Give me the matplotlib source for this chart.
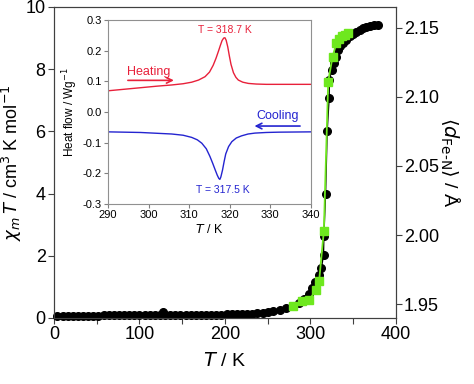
import matplotlib
matplotlib.use('Agg')
import matplotlib.pyplot as plt

plt.rcParams['font.family'] = ['Liberation Sans', 'DejaVu Sans']
plt.rcParams['mathtext.fontset'] = 'dejavusans'

# chi_m T vs T (black circles)
temp_chi = [4, 10, 16, 22, 28, 34, 40, 46, 52, 58, 64, 70, 76, 82, 88, 94, 100,
            106, 112, 118, 124, 127, 130, 136, 142, 148, 154, 160, 166, 172, 178,
            184, 190, 196, 202, 208, 214, 220, 226, 232, 238, 244, 250, 256, 264,
            272, 280, 287, 293, 298, 302, 306, 310, 313, 315.4, 315.8, 317.8,
            319.7, 322, 322.3, 324.8, 327.5, 329.8, 332.6, 335, 338.4, 342, 346.2,
            350, 354, 358, 361.8, 365, 369.6, 374, 379.3]
chi_t = [0.05, 0.05, 0.05, 0.06, 0.06, 0.06, 0.06, 0.07, 0.07, 0.08, 0.08, 0.08,
         0.08, 0.08, 0.08, 0.08, 0.08, 0.08, 0.09, 0.09, 0.09, 0.2, 0.09, 0.09,
         0.09, 0.1, 0.1, 0.1, 0.1, 0.1, 0.1, 0.11, 0.11, 0.11, 0.12, 0.12, 0.12,
         0.13, 0.13, 0.14, 0.15, 0.17, 0.19, 0.22, 0.26, 0.32, 0.38, 0.48, 0.62,
         0.78, 0.95, 1.15, 1.38, 1.62, 2.03, 2.64, 3.99, 6.01, 7.08, 7.65, 7.97,
         8.19, 8.4, 8.62, 8.73, 8.83, 8.95, 9.05, 9.13, 9.2, 9.26, 9.31, 9.35,
         9.39, 9.41, 9.42]

# <d Fe-N> vs T (green squares)
temp_d = [279.2, 289.7, 298.6, 306.4, 310.3, 315.8, 320.9, 326.0, 330.6, 334.0,
          336.5, 340.4, 344.0]
d_fen = [1.949, 1.952, 1.953, 1.960, 1.967, 2.003, 2.111, 2.129, 2.139, 2.142,
         2.144, 2.145, 2.146]

# DSC inset
temp_heat = [290.0, 294.0, 298.0, 302.0, 305.7, 308.5, 310.6, 312.3, 313.9, 315.0,
             315.9, 316.6, 317.2, 317.7, 318.1, 318.5, 318.8, 319.1, 319.5, 319.9,
             320.3, 320.9, 321.5, 322.1, 323.2, 324.6, 326.5, 329.0, 340.0]
flow_heat = [0.069, 0.074, 0.079, 0.084, 0.088, 0.092, 0.097, 0.104, 0.115, 0.130,
             0.152, 0.175, 0.198, 0.218, 0.233, 0.241, 0.242, 0.234, 0.212, 0.182,
             0.155, 0.128, 0.113, 0.104, 0.097, 0.093, 0.091, 0.090, 0.090]
temp_cool = [290.0, 298.0, 305.7, 308.5, 310.6, 312.0, 313.1, 314.2, 315.1, 315.8,
             316.4, 316.9, 317.3, 317.55, 317.8, 318.2, 318.6, 319.0, 319.7, 320.5,
             321.6, 322.9, 324.5, 326.2, 329.0, 332.0, 340.0]
flow_cool = [-0.065, -0.067, -0.072, -0.076, -0.083, -0.091, -0.102, -0.120, -0.145,
             -0.168, -0.189, -0.206, -0.217, -0.220, -0.212, -0.190, -0.162, -0.137,
             -0.113, -0.097, -0.085, -0.078, -0.072, -0.069, -0.067, -0.066, -0.065]

red = '#e8203a'
blue = '#2424d0'
green = '#6ee81e'
spine_col = '#404040'

fig = plt.figure(figsize=(4.74, 3.84), dpi=100)
ax = fig.add_axes([0.114, 0.172, 0.721, 0.810])

ax.plot(temp_chi, chi_t, 'o-', color='black', markersize=5.5, lw=1, clip_on=False, zorder=3)
ax.set_xlim(0, 400)
ax.set_ylim(0, 10)
ax.set_xticks(range(0, 401, 50))
ax.set_xticklabels(['0', '', '100', '', '200', '', '300', '', '400'])
ax.set_yticks(range(0, 11, 2))
ax.tick_params(labelsize=13, direction='out', length=4, color=spine_col, pad=2)
for s in ax.spines.values():
    s.set_color(spine_col)
ax.set_xlabel('$T$ / K', fontsize=14, labelpad=6)
ax.set_ylabel(r'$\chi_m\,T$ / cm$^3$ K mol$^{-1}$', fontsize=13, labelpad=1)

ax2 = ax.twinx()
ax2.plot(temp_d, d_fen, 's-', color=green, markersize=6, lw=1.3, clip_on=False, zorder=4)
ax2.set_ylim(1.940, 2.165)
ax2.set_yticks([1.95, 2.00, 2.05, 2.10, 2.15])
ax2.set_yticklabels(['1.95', '2.00', '2.05', '2.10', '2.15'])
ax2.tick_params(labelsize=13, direction='out', length=4, color=spine_col, pad=2)
for s in ax2.spines.values():
    s.set_color(spine_col)
ax2.set_ylabel(r'$\langle d_{\mathrm{Fe\text{-}N}}\rangle$ / Å', fontsize=14,
               rotation=270, labelpad=16)

# inset
ins = fig.add_axes([0.228, 0.469, 0.428, 0.479])
ins.plot(temp_heat, flow_heat, color=red, lw=1)
ins.plot(temp_cool, flow_cool, color=blue, lw=1)
ins.set_xlim(290, 340)
ins.set_ylim(-0.3, 0.3)
ins.set_xticks(range(290, 341, 10))
ins.set_yticks([-0.3, -0.2, -0.1, 0.0, 0.1, 0.2, 0.3])
ins.set_yticklabels(['-0.3', '-0.2', '-0.1', '0.0', '0.1', '0.2', '0.3'])
ins.tick_params(labelsize=8, direction='out', length=3, color='#808080', pad=1.5)
for s in ins.spines.values():
    s.set_color('#909090')
ins.set_xlabel('$T$ / K', fontsize=9, labelpad=2)
ins.set_ylabel('Heat flow / Wg$^{-1}$', fontsize=8.5, labelpad=2)

ins.text(318.8, 0.267, 'T = 318.7 K', color=red, fontsize=7.5, ha='center', va='center')
ins.text(318.2, -0.254, 'T = 317.5 K', color=blue, fontsize=7.5, ha='center', va='center')
ins.text(300.0, 0.130, 'Heating', color=red, fontsize=9, ha='center', va='center')
ins.text(331.9, -0.013, 'Cooling', color=blue, fontsize=9, ha='center', va='center')
ins.annotate('', xy=(306.9, 0.103), xytext=(294.2, 0.103),
             arrowprops=dict(arrowstyle='->', color=red, lw=1.2))
ins.annotate('', xy=(325.4, -0.046), xytext=(338.0, -0.046),
             arrowprops=dict(arrowstyle='->', color=blue, lw=1.2))

fig.savefig('out.png', dpi=100)
